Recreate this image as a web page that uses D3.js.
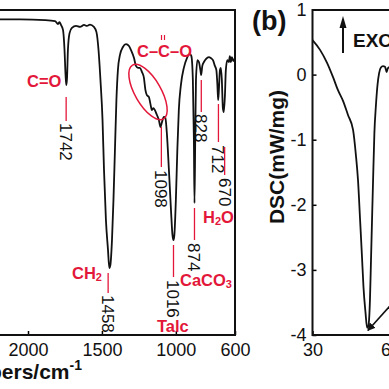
<!DOCTYPE html>
<html>
<head>
<meta charset="utf-8">
<script src="https://cdn.jsdelivr.net/npm/d3@7"></script>
<style>
body{margin:0;background:#fff}
svg{display:block;font-family:"Liberation Sans",Arial,sans-serif}
</style>
</head>
<body>
<script>
// FTIR spectrum (a): [wavenumber cm-1, transmittance %]
var ftirSpectrum = [
  [2230,97.1],[2054,97.1],[1885,96.9],[1817,96.6],[1797,95.7],[1787,96.3],[1777,95.4],
  [1763,93.8],[1753,87.7],[1746,80],[1741,76.9],[1736,79.1],[1730,87.7],[1719,92.9],
  [1703,94.5],[1675,95.1],[1648,94.8],[1621,95.4],[1601,95.1],[1581,95.5],[1554,94.8],
  [1537,93.2],[1523,87.7],[1510,78.5],[1496,66.2],[1486,50.8],[1473,35.4],[1459,26.2],
  [1450,20.6],[1443,21.5],[1432,29.2],[1422,41.5],[1412,56.9],[1402,72.3],[1392,81.5],
  [1378,86.2],[1358,88.6],[1337,89.5],[1317,88.9],[1304,87.7],[1283,85.2],[1270,82.8],
  [1256,82.2],[1243,82.2],[1229,80.9],[1216,79.1],[1206,75.4],[1196,73.8],[1182,73.2],
  [1172,71.1],[1162,69.2],[1152,69.8],[1142,69.2],[1128,67.7],[1115,66.2],[1104,64],
  [1094,65.5],[1081,67.1],[1071,66.8],[1060,61.5],[1047,50.8],[1033,38.5],[1023,30.8],
  [1016,29.2],[1010,30.8],[1000,41.5],[990,56.9],[980,69.2],[966,76.9],[946,82.2],
  [925,85.2],[905,86.5],[895,85.8],[885,78.5],[878,60],[874,40.6],[869,60],[864,78.5],
  [854,84.6],[844,84],[834,81.5],[829,80],[821,82.8],[810,84],[797,84.9],[776,85.5],
  [763,85.2],[749,84.6],[736,82.8],[726,81.5],[719,76.9],[714,72.3],[709,75.4],
  [702,81.5],[696,82.2],[689,78.5],[682,69.8],[676,68.6],[668,73.8],[662,81.5],
  [652,84.6],[641,84],[635,85.8],[628,84],[621,85.5],[611,84.3],[600,85.2]
];
var ftirTicks = [2000, 1500, 1000, 600];
var peakLabels = ["1742", "1458", "1098", "1016", "874", "828", "712", "670"];
var groupLabels = ["C=O", "CH", "C\u2013C\u2013O", "Talc", "CaCO", "H"];

// DSC curve (b): temperature and heat flow
var dscTemp = [30,32.9,35.6,37.9,39.8,41.7,43.65,45.6,46.7,47.5,48.3,49.0,49.6,50.4,51.0,
  51.5,52.1,52.5,52.9,53.3,53.8,54.4,55.0,55.6,56.3,57.1,57.9,58.5,59.0,60.2,62];
var dscFlow = [0.53,0.38,0.18,-0.04,-0.24,-0.4,-0.62,-0.85,-1.24,-1.62,-2.23,-2.77,-3.26,-3.66,-3.89,
  -3.86,-3.46,-2.85,-2.23,-1.62,-0.9,-0.47,-0.16,0.02,0.11,0.13,0.12,0.04,0.10,0.12,0.12];
var dscYTicks = [-4, -3, -2, -1, 0, 1];
var dscXTicks = [30, 60];

var w = 389, h = 389;
var red = "#e3173a";
var plain = function(d){ return String(d); };

var svg = d3.select("body")
    .append("svg")
    .attr("width", w)
    .attr("height", h);

svg.append("defs").append("marker")
    .attr("id", "head")
    .attr("viewBox", "0 0 10 10")
    .attr("refX", 9).attr("refY", 5)
    .attr("markerWidth", 5).attr("markerHeight", 5)
    .attr("markerUnits", "strokeWidth")
    .attr("orient", "auto")
    .append("path")
    .attr("d", "M0,0 L10,5 L0,10 Z")
    .style("fill", "#111");

// ---------- panel (a) FTIR ----------
var x = d3.scaleLinear().domain([2000, 600]).range([28, 235]);
var y = d3.scaleLinear().domain([0, 100]).range([335, 10]);

var line = d3.line()
    .x(function(d){ return x(d[0]); })
    .y(function(d){ return y(d[1]); })
    .curve(d3.curveMonotoneX);

svg.append("path")
    .datum(ftirSpectrum)
    .attr("d", line)
    .style("fill", "none")
    .style("stroke", "#111")
    .style("stroke-width", 1.8);

var xAxis = svg.append("g")
    .attr("transform", "translate(0,335)")
    .call(d3.axisBottom(x).tickValues(ftirTicks).tickFormat(plain)
        .tickSizeInner(-4).tickSizeOuter(0).tickPadding(8));
xAxis.select(".domain").remove();
xAxis.selectAll("line").style("stroke-width", 1.5);
xAxis.selectAll("text").attr("font-size", 18).attr("font-family", "Liberation Sans, Arial, sans-serif").style("fill", "#111");

// frame
svg.append("path")
    .attr("d", "M-5,10 H235 V335 H-5")
    .style("fill", "none")
    .style("stroke", "#111")
    .style("stroke-width", 2);

// x title
var xt = svg.append("text")
    .attr("x", 82).attr("y", 379)
    .attr("text-anchor", "end")
    .style("font-weight", "bold")
    .style("font-size", "21px")
    .style("fill", "#111");
xt.append("tspan").text("Wavenumbers/cm");
xt.append("tspan").attr("dy", -9).style("font-size", "14px").text("-1");

// peak annotation lines + rotated numbers
var peakLayout = [
  {y0: 97, y1: 121, ty: 123},
  {y0: 273, y1: 293, ty: 295},
  {y0: 127, y1: 167, ty: 170},
  {y0: 245, y1: 277, ty: 280},
  {y0: 208, y1: 240, ty: 243},
  {y0: 80, y1: 112, ty: 114},
  {y0: 104, y1: 142, ty: 145},
  {y0: 147, y1: 175, ty: 178}
];

peakLabels.forEach(function(lab, i){
    var px = x(+lab), L = peakLayout[i];
    svg.append("line")
        .attr("x1", px).attr("x2", px)
        .attr("y1", L.y0).attr("y2", L.y1)
        .style("stroke", red)
        .style("stroke-width", 1.3);
    svg.append("text")
        .attr("transform", "translate(" + px + "," + L.ty + ") rotate(90)")
        .attr("dy", "0.36em")
        .style("font-size", "17px")
        .style("fill", "#111")
        .text(lab);
});

// group labels
function redText(px, py, main, sub, tail){
    var t = svg.append("text")
        .attr("x", px).attr("y", py)
        .style("font-weight", "bold")
        .style("font-size", "16.5px")
        .style("fill", red);
    t.append("tspan").text(main);
    if (sub) {
        t.append("tspan").attr("dy", 2).style("font-size", "11px").text(sub);
        if (tail) t.append("tspan").attr("dy", -2).text(tail);
    }
    return t;
}
redText(27, 87, groupLabels[0]);
redText(72, 279, groupLabels[1], "2");
redText(137, 57, groupLabels[2]);
redText(157, 332, groupLabels[3]);
redText(180, 286, groupLabels[4], "3");
redText(203, 223, groupLabels[5], "2", "O");

// double bond above the middle carbon
[161.5, 164.5].forEach(function(bx){
    svg.append("line")
        .attr("x1", bx).attr("x2", bx)
        .attr("y1", 35).attr("y2", 40)
        .style("stroke", red)
        .style("stroke-width", 1.2);
});

// ellipse around the C-C-O shoulder
svg.append("ellipse")
    .attr("transform", "translate(148,92) rotate(-30)")
    .attr("rx", 13).attr("ry", 31)
    .style("fill", "none")
    .style("stroke", red)
    .style("stroke-width", 1.5);

// ---------- panel (b) DSC ----------
var x2 = d3.scaleLinear().domain([30, 60]).range([312.5, 390.5]);
var y2 = d3.scaleLinear().domain([-4, 1]).range([335, 9.5]);

var dscLine = d3.line()
    .x(function(d, i){ return x2(dscTemp[i]); })
    .y(function(d){ return y2(d); })
    .curve(d3.curveMonotoneX);

svg.append("path")
    .datum(dscFlow)
    .attr("d", dscLine)
    .style("fill", "none")
    .style("stroke", "#111")
    .style("stroke-width", 1.8);

var yAxis2 = svg.append("g")
    .attr("transform", "translate(312.5,0)")
    .call(d3.axisLeft(y2).tickValues(dscYTicks).tickFormat(plain)
        .tickSizeInner(-4).tickSizeOuter(0).tickPadding(6));
var xAxis2 = svg.append("g")
    .attr("transform", "translate(0,335)")
    .call(d3.axisBottom(x2).tickValues(dscXTicks).tickFormat(plain)
        .tickSizeInner(-4).tickSizeOuter(0).tickPadding(8));
[yAxis2, xAxis2].forEach(function(g){
    g.select(".domain").remove();
    g.selectAll("line").style("stroke-width", 1.5);
    g.selectAll("text").attr("font-size", 18).attr("font-family", "Liberation Sans, Arial, sans-serif").style("fill", "#111");
});

svg.append("path")
    .attr("d", "M395,10 H312.5 V335 H395")
    .style("fill", "none")
    .style("stroke", "#111")
    .style("stroke-width", 2);

svg.append("text")
    .attr("transform", "translate(277,157) rotate(-90)")
    .attr("text-anchor", "middle")
    .attr("dy", "0.35em")
    .style("font-weight", "bold")
    .style("font-size", "21px")
    .style("fill", "#111")
    .text("DSC(mW/mg)");

svg.append("text")
    .attr("x", 252).attr("y", 30)
    .style("font-weight", "bold")
    .style("font-size", "27px")
    .style("fill", "#111")
    .text("(b)");

// EXO arrow
svg.append("line")
    .attr("x1", 343).attr("x2", 343)
    .attr("y1", 53).attr("y2", 24)
    .style("stroke", "#111")
    .style("stroke-width", 2);
svg.append("path")
    .attr("d", "M343,16 L339.5,28 L346.5,28 Z")
    .style("fill", "#111");
svg.append("text")
    .attr("x", 353).attr("y", 47)
    .style("font-weight", "bold")
    .style("font-size", "19px")
    .style("fill", "#111")
    .text("EXO");

// arrow pointing at the endothermic peak
svg.append("line")
    .attr("x1", x2(61)).attr("y1", y2(-3.5))
    .attr("x2", x2(51.3)).attr("y2", y2(-3.93))
    .style("stroke", "#111")
    .style("stroke-width", 1.6)
    .attr("marker-end", "url(#head)");
</script>
</body>
</html>
